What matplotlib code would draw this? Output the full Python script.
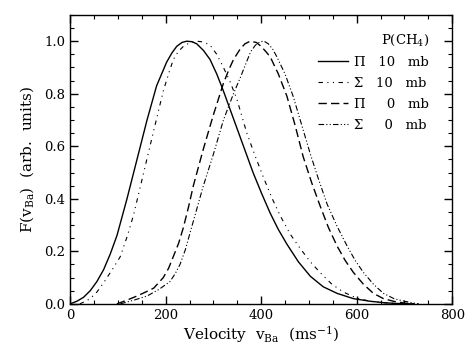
import matplotlib
matplotlib.use('Agg')
import matplotlib.pyplot as plt
from matplotlib.ticker import MultipleLocator

plt.rcParams['font.family'] = ['DejaVu Serif']
plt.rcParams['mathtext.fontset'] = 'dejavuserif'

# Pi, 10 mb CH4
v_pi10 = [0, 14, 28, 42, 56, 70, 84, 98, 119, 140, 161, 181, 202, 213, 223, 234, 244,
          255, 265, 279, 293, 307, 321, 335, 349, 366, 383, 401, 419, 436, 454, 478,
          503, 530, 559, 593, 628, 660, 690, 720]
f_pi10 = [0.0, 0.01, 0.025, 0.05, 0.085, 0.13, 0.19, 0.26, 0.40, 0.55, 0.70, 0.83,
          0.92, 0.955, 0.98, 0.995, 1.0, 0.998, 0.99, 0.965, 0.93, 0.875, 0.81, 0.74,
          0.67, 0.585, 0.50, 0.42, 0.345, 0.283, 0.227, 0.16, 0.105, 0.065, 0.04, 0.02,
          0.01, 0.004, 0.001, 0.0]

# Sigma, 10 mb CH4
v_sig10 = [20, 30, 42, 56, 70, 88, 105, 120, 133, 154, 175, 195, 206, 216, 227, 237,
           251, 265, 279, 293, 307, 321, 335, 349, 370, 387, 404, 422, 440, 461, 482,
           503, 524, 548, 572, 600, 628, 660, 690, 720]
f_sig10 = [0.0, 0.008, 0.02, 0.045, 0.08, 0.13, 0.18, 0.26, 0.34, 0.50, 0.66, 0.81,
           0.875, 0.93, 0.962, 0.98, 0.995, 1.0, 0.997, 0.985, 0.95, 0.90, 0.845, 0.78,
           0.65, 0.565, 0.485, 0.405, 0.335, 0.265, 0.21, 0.16, 0.118, 0.075, 0.045,
           0.022, 0.01, 0.004, 0.001, 0.0]

# Pi, 0 mb
v_pi0 = [98, 120, 140, 158, 175, 195, 206, 216, 227, 237, 248, 258, 279, 300, 321, 332,
         342, 356, 366, 377, 390, 400, 410, 419, 436, 454, 471, 488, 506, 524, 541, 559,
         576, 593, 614, 635, 656, 677, 700, 720]
f_pi0 = [0.0, 0.015, 0.03, 0.045, 0.06, 0.10, 0.135, 0.18, 0.23, 0.29, 0.37, 0.45,
         0.59, 0.72, 0.84, 0.89, 0.93, 0.97, 0.99, 1.0, 0.995, 0.98, 0.96, 0.94, 0.875,
         0.79, 0.68, 0.56, 0.46, 0.37, 0.29, 0.22, 0.165, 0.12, 0.075, 0.04, 0.02, 0.01,
         0.003, 0.0]

# Sigma, 0 mb
v_sig0 = [105, 135, 161, 186, 209, 220, 230, 241, 251, 265, 279, 300, 321, 342, 356,
          367, 378, 388, 398, 406, 415, 424, 433, 450, 467, 485, 503, 520, 538, 559, 580,
          597, 614, 635, 656, 678, 700, 730]
f_sig0 = [0.0, 0.015, 0.03, 0.055, 0.085, 0.115, 0.15, 0.205, 0.27, 0.36, 0.45, 0.57,
          0.70, 0.80, 0.86, 0.91, 0.96, 0.985, 0.998, 1.0, 0.99, 0.97, 0.94, 0.875, 0.79,
          0.68, 0.57, 0.475, 0.38, 0.295, 0.22, 0.165, 0.12, 0.075, 0.04, 0.02, 0.01, 0.0]

fig = plt.figure(figsize=(4.74, 3.55), dpi=100)
ax = fig.add_axes([0.148, 0.144, 0.806, 0.814])

ax.plot(v_pi10, f_pi10, color='black', lw=1.0, ls='-', label='Π   10   mb')
ax.plot(v_sig10, f_sig10, color='black', lw=0.8, ls=(0, (4, 4, 1, 4, 1, 4)),
        label='Σ   10   mb')
ax.plot(v_pi0, f_pi0, color='black', lw=1.0, ls=(0, (6, 3)), label='Π     0   mb')
ax.plot(v_sig0, f_sig0, color='black', lw=0.8, ls=(0, (5, 2, 1, 2, 1, 2)),
        label='Σ     0   mb')

ax.set_xlim(0, 800)
ax.set_ylim(0, 1.1)
ax.xaxis.set_major_locator(MultipleLocator(200))
ax.xaxis.set_minor_locator(MultipleLocator(50))
ax.yaxis.set_major_locator(MultipleLocator(0.2))
ax.yaxis.set_minor_locator(MultipleLocator(0.05))
ax.yaxis.set_major_formatter(plt.FormatStrFormatter('%.1f'))
ax.tick_params(which='both', direction='in', top=True, right=True, labelsize=9.5)
ax.tick_params(which='major', length=6, width=1)
ax.tick_params(which='minor', length=3, width=0.8)
for s in ax.spines.values():
    s.set_linewidth(1.0)

ax.set_xlabel(r'Velocity  v$_{\mathrm{Ba}}$  (ms$^{-1}$)', fontsize=11, labelpad=2)
ax.set_ylabel(r'F(v$_{\mathrm{Ba}}$)  (arb.  units)', fontsize=11, labelpad=6)

leg = ax.legend(loc='upper right', frameon=False, title='P(CH$_4$)',
                fontsize=9.5, title_fontsize=9.5, handlelength=2.2,
                labelspacing=0.6, handletextpad=0.5, alignment='right',
                bbox_to_anchor=(0.96, 0.965), borderaxespad=0.2)

fig.savefig('out.png', dpi=100)
